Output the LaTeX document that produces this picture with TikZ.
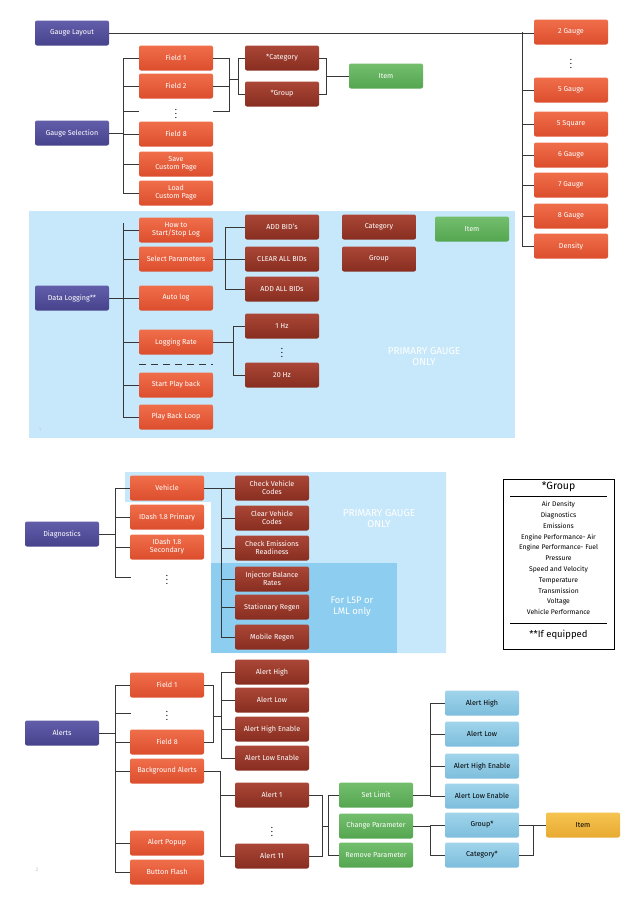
\documentclass[tikz,border=0pt]{standalone}
\usepackage{fontspec}
\setmainfont{Fira Sans}
\begin{document}
\begin{tikzpicture}[x=1pt,y=-1pt,
  bx/.style={rounded corners=2pt,minimum width=74pt,minimum height=25pt,inner sep=1pt,align=center,text=white,font=\fontsize{7.2}{8}\selectfont},
  navy/.style={bx,top color=navy1,bottom color=navy2},
  ora/.style={bx,top color=ora1,bottom color=ora2},
  red/.style={bx,top color=red1,bottom color=red2},
  grn/.style={bx,top color=grn1,bottom color=grn2},
  lbl/.style={bx,top color=lb1,bottom color=lb2,text=black},
  gold/.style={bx,top color=gd1,bottom color=gd2,text=black},
  ln/.style={draw=lnc,line width=0.8pt},
  dots/.style={font=\bfseries\fontsize{7}{7}\selectfont,inner sep=0pt}]
\definecolor{navy1}{RGB}{98,94,170}\definecolor{navy2}{RGB}{70,66,140}
\definecolor{ora1}{RGB}{240,110,75}\definecolor{ora2}{RGB}{220,78,45}
\definecolor{red1}{RGB}{170,70,55}\definecolor{red2}{RGB}{135,45,32}
\definecolor{grn1}{RGB}{115,190,110}\definecolor{grn2}{RGB}{85,165,80}
\definecolor{lb1}{RGB}{160,212,235}\definecolor{lb2}{RGB}{125,190,220}
\definecolor{gd1}{RGB}{245,195,80}\definecolor{gd2}{RGB}{232,170,50}
\definecolor{lnc}{RGB}{55,55,55}
\definecolor{bgA}{RGB}{199,232,250}\definecolor{bgB}{RGB}{140,205,240}
\useasboundingbox (0,0) rectangle (640,903);
\fill[white] (0,0) rectangle (640,903);
% backgrounds
\fill[bgA] (29,211) rectangle (515,438);
\fill[bgA] (125,472) -- (446,472) -- (446,653) -- (211,653) -- (211,502) -- (125,502) -- cycle;
\fill[bgB] (211,563) rectangle (397,653);
\node[text=white,align=center,font=\fontsize{10}{11}\selectfont] (pg1) at (424,357) {PRIMARY GAUGE\\ONLY};
\node[text=white,align=center,font=\fontsize{10}{11}\selectfont] (pg2) at (379,519) {PRIMARY GAUGE\\ONLY};
\node[text=white,align=center,font=\fontsize{9.5}{11}\selectfont] (l5p) at (352,607) {For L5P or\\LML only};
\node[text=black!25,font=\fontsize{5}{5}\selectfont] (p1) at (40,430) {1};
\node[text=black!25,font=\fontsize{5}{5}\selectfont] (p2) at (37,870) {2};
% ===== Gauge layout
\node[navy] (gl) at (72,33) {Gauge Layout};
\node[ora] (g2) at (571,32) {2 Gauge};
\node[dots] (gd) at (571,61) {\vdots};
\node[ora] (g5) at (571,90) {5 Gauge};
\node[ora] (s5) at (571,124) {5 Square};
\node[ora] (g6) at (571,155) {6 Gauge};
\node[ora] (g7) at (571,185) {7 Gauge};
\node[ora] (g8) at (571,216) {8 Gauge};
\node[ora] (den) at (571,246) {Density};
\coordinate (rsp) at (522,32);
\draw[ln] (gl.east) -- (gl.east -| g2.west);
\draw[ln] (rsp) -- (rsp |- den.west);
\foreach \n in {g5,s5,g6,g7,g8,den} \draw[ln] (\n.west) -- (\n.west -| rsp);
% ===== Gauge selection
\node[navy] (gs) at (72,133) {Gauge Selection};
\node[ora] (f1) at (176,58) {Field 1};
\node[ora] (f2) at (176,86) {Field 2};
\node[dots] (fd) at (176,111) {\vdots};
\node[ora] (f8) at (176,134) {Field 8};
\node[ora] (sv) at (176,164) {Save\\Custom Page};
\node[ora] (ld) at (176,193) {Load\\Custom Page};
\node[red] (cat) at (282,58) {*Category};
\node[red] (grp) at (282,94) {*Group};
\node[grn] (it1) at (386,76) {Item};
\coordinate (gsp) at (123,58);
\coordinate (gb1) at (229,58);
\coordinate (gb2) at (238,58);
\coordinate (gb3) at (326,58);
\draw[ln] (gs.east) -- (gs.east -| gsp);
\draw[ln] (gsp) -- (gsp |- ld.west);
\foreach \n in {f1,f2,f8,sv,ld} \draw[ln] (\n.west) -- (\n.west -| gsp);
\draw[ln] (gsp |- fd) -- ++(16,0);
\draw[ln] (f1.east) -- (gb1) -- (gb1 |- fd) -- ++(-16,0);
\draw[ln] (f2.east) -- (f2.east -| gb1);
\draw[ln] (229,79) -- (238,79);
\draw[ln] (cat.west) -- (gb2) -- (gb2 |- grp.west) -- (grp.west);
\draw[ln] (cat.east) -- (gb3) -- (gb3 |- grp.east) -- (grp.east);
\draw[ln] (gb3 |- it1.west) -- (it1.west);
% ===== Data logging
\node[navy] (dl) at (72,298) {Data Logging**};
\node[ora] (ht) at (176,230) {How to\\Start/Stop Log};
\node[ora] (sp) at (176,259) {Select Parameters};
\node[ora] (al) at (176,298) {Auto log};
\node[ora] (lr) at (176,342) {Logging Rate};
\node[ora] (spb) at (176,385) {Start Play back};
\node[ora] (pbl) at (176,417) {Play Back Loop};
\node[red] (ab) at (282,227) {ADD BID's};
\node[red] (cb) at (282,259) {CLEAR ALL BIDs};
\node[red] (aab) at (282,289) {ADD ALL BIDs};
\node[red] (cat2) at (379,227) {Category};
\node[red] (grp2) at (379,259) {Group};
\node[grn] (it2) at (472,229) {Item};
\node[red] (h1) at (282,326) {1 Hz};
\node[dots] (hd) at (282,350) {\vdots};
\node[red] (h20) at (282,375) {20 Hz};
\coordinate (dsp) at (123,223);
\coordinate (db1) at (225,227);
\coordinate (db2) at (233,326);
\draw[ln] (dl.east) -- (dl.east -| dsp);
\draw[ln] (dsp) -- (dsp |- pbl.west);
\foreach \n in {ht,sp,al,lr,spb,pbl} \draw[ln] (\n.west) -- (\n.west -| dsp);
\draw[ln,dash pattern=on 7pt off 5pt,line width=1pt] (139,364) -- (213,364);
\draw[ln] (sp.east) -- (cb.west);
\draw[ln] (ab.west) -- (db1) -- (db1 |- aab.west) -- (aab.west);
\draw[ln] (h1.west) -- (db2) -- (db2 |- h20.west) -- (h20.west);
\draw[ln] (lr.east) -- (lr.east -| db2);
% ===== Diagnostics
\node[navy] (dg) at (62,534) {Diagnostics};
\node[ora] (veh) at (167,488) {Vehicle};
\node[ora] (idp) at (167,517) {IDash 1.8 Primary};
\node[ora] (ids) at (167,547) {IDash 1.8\\Secondary};
\node[dots] (idd) at (167,577) {\vdots};
\node[red] (cvc) at (272,488) {Check Vehicle\\Codes};
\node[red] (clc) at (272,518) {Clear Vehicle\\Codes};
\node[red] (cer) at (272,548) {Check Emissions\\Readiness};
\node[red] (ibr) at (272,579) {Injector Balance\\Rates};
\node[red] (str) at (272,607) {Stationary Regen};
\node[red] (mor) at (272,637) {Mobile Regen};
\coordinate (xsp) at (115,488);
\coordinate (xsp2) at (221,488);
\draw[ln] (dg.east) -- (dg.east -| xsp);
\draw[ln] (xsp) -- (xsp |- idd);
\foreach \n in {veh,idp,ids} \draw[ln] (\n.west) -- (\n.west -| xsp);
\draw[ln] (xsp |- idd) -- ++(16,0);
\draw[ln] (veh.east) -- (cvc.west);
\draw[ln] (xsp2) -- (xsp2 |- mor.west);
\foreach \n in {clc,cer,ibr,str,mor} \draw[ln] (\n.west) -- (\n.west -| xsp2);
% legend
\node[draw=black,line width=0.9pt,minimum width=111pt,minimum height=170pt] (leg) at (558.5,564) {};
\node[font=\fontsize{10.5}{10.5}\selectfont] (lgt) at (558.5,487) {*Group};
\draw[line width=1pt] (510,496) -- (607,496);
\node[align=center,font=\fontsize{6.8}{10.8}\selectfont] (lgl) at (558.5,558) {Air Density\\Diagnostics\\Emissions\\Engine Performance- Air\\Engine Performance- Fuel\\Pressure\\Speed and Velocity\\Temperature\\Transmission\\Voltage\\Vehicle Performance};
\draw[line width=1pt] (510,623) -- (607,623);
\node[font=\fontsize{9.5}{9.5}\selectfont] (lge) at (558.5,635) {**If equipped};
% ===== Alerts
\node[navy] (alr) at (62,733) {Alerts};
\node[ora] (af1) at (167,685) {Field 1};
\node[dots] (afd) at (167,713) {\vdots};
\node[ora] (af8) at (167,742) {Field 8};
\node[ora] (bga) at (167,771) {Background Alerts};
\node[ora] (apu) at (167,843) {Alert Popup};
\node[ora] (bfl) at (167,872) {Button Flash};
\node[red] (ah) at (272,672) {Alert High};
\node[red] (alo) at (272,700) {Alert Low};
\node[red] (ahe) at (272,729) {Alert High Enable};
\node[red] (ale) at (272,758) {Alert Low Enable};
\node[red] (a1) at (272,795) {Alert 1};
\node[dots] (a1d) at (272,829) {\vdots};
\node[red] (a11) at (272,856) {Alert 11};
\node[grn] (sl) at (376,795) {Set Limit};
\node[grn] (cp) at (376,826) {Change Parameter};
\node[grn] (rp) at (376,855) {Remove Parameter};
\node[lbl] (bh) at (482,703) {Alert High};
\node[lbl] (bl) at (482,734) {Alert Low};
\node[lbl] (bhe) at (482,766) {Alert High Enable};
\node[lbl] (ble) at (482,796) {Alert Low Enable};
\node[lbl] (bgr) at (482,825) {Group*};
\node[lbl] (bca) at (482,855) {Category*};
\node[gold] (it3) at (583,825) {Item};
\coordinate (asp) at (115,685);
\coordinate (ab1) at (213,685);
\coordinate (ab2) at (221,672);
\coordinate (ab3) at (220,771);
\coordinate (ab4) at (322,795);
\coordinate (ab5) at (328,795);
\coordinate (ab6) at (430,703);
\coordinate (ab7) at (430,826);
\coordinate (ab8) at (533,825);
\draw[ln] (alr.east) -- (alr.east -| asp);
\draw[ln] (asp) -- (asp |- bfl.west);
\foreach \n in {af1,af8,bga,apu,bfl} \draw[ln] (\n.west) -- (\n.west -| asp);
\draw[ln] (asp |- afd) -- ++(16,0);
\draw[ln] (af1.east) -- (ab1) -- (ab1 |- af8.east) -- (af8.east);
\draw[ln] (ab1 |- 0,716) -- (ab2 |- 0,716);
\draw[ln] (ab2) -- (ab2 |- ale.west);
\foreach \n in {ah,alo,ahe,ale} \draw[ln] (\n.west) -- (\n.west -| ab2);
\draw[ln] (bga.east) -- (ab3) -- (ab3 |- a11.west) -- (a11.west);
\draw[ln] (a1.west) -- (a1.west -| ab3);
\draw[ln] (a1.east) -- (ab4) -- (ab4 |- a11.east) -- (a11.east);
\draw[ln] (ab4 |- cp.west) -- (ab5 |- cp.west);
\draw[ln] (sl.west) -- (ab5) -- (ab5 |- rp.west) -- (rp.west);
\draw[ln] (sl.east) -- (sl.east -| ab6) -- (ab6) -- (bh.west);
\foreach \n in {bl,bhe,ble} \draw[ln] (\n.west) -- (\n.west -| ab6);
\draw[ln] (cp.east) -- (ab7) -- (ab7 |- bca.west) -- (bca.west);
\draw[ln] (bgr.west) -- (bgr.west -| ab7);
\draw[ln] (bgr.east) -- (it3.west);
\draw[ln] (bca.east) -- (bca.east -| ab8) -- (ab8);
\end{tikzpicture}
\end{document}
